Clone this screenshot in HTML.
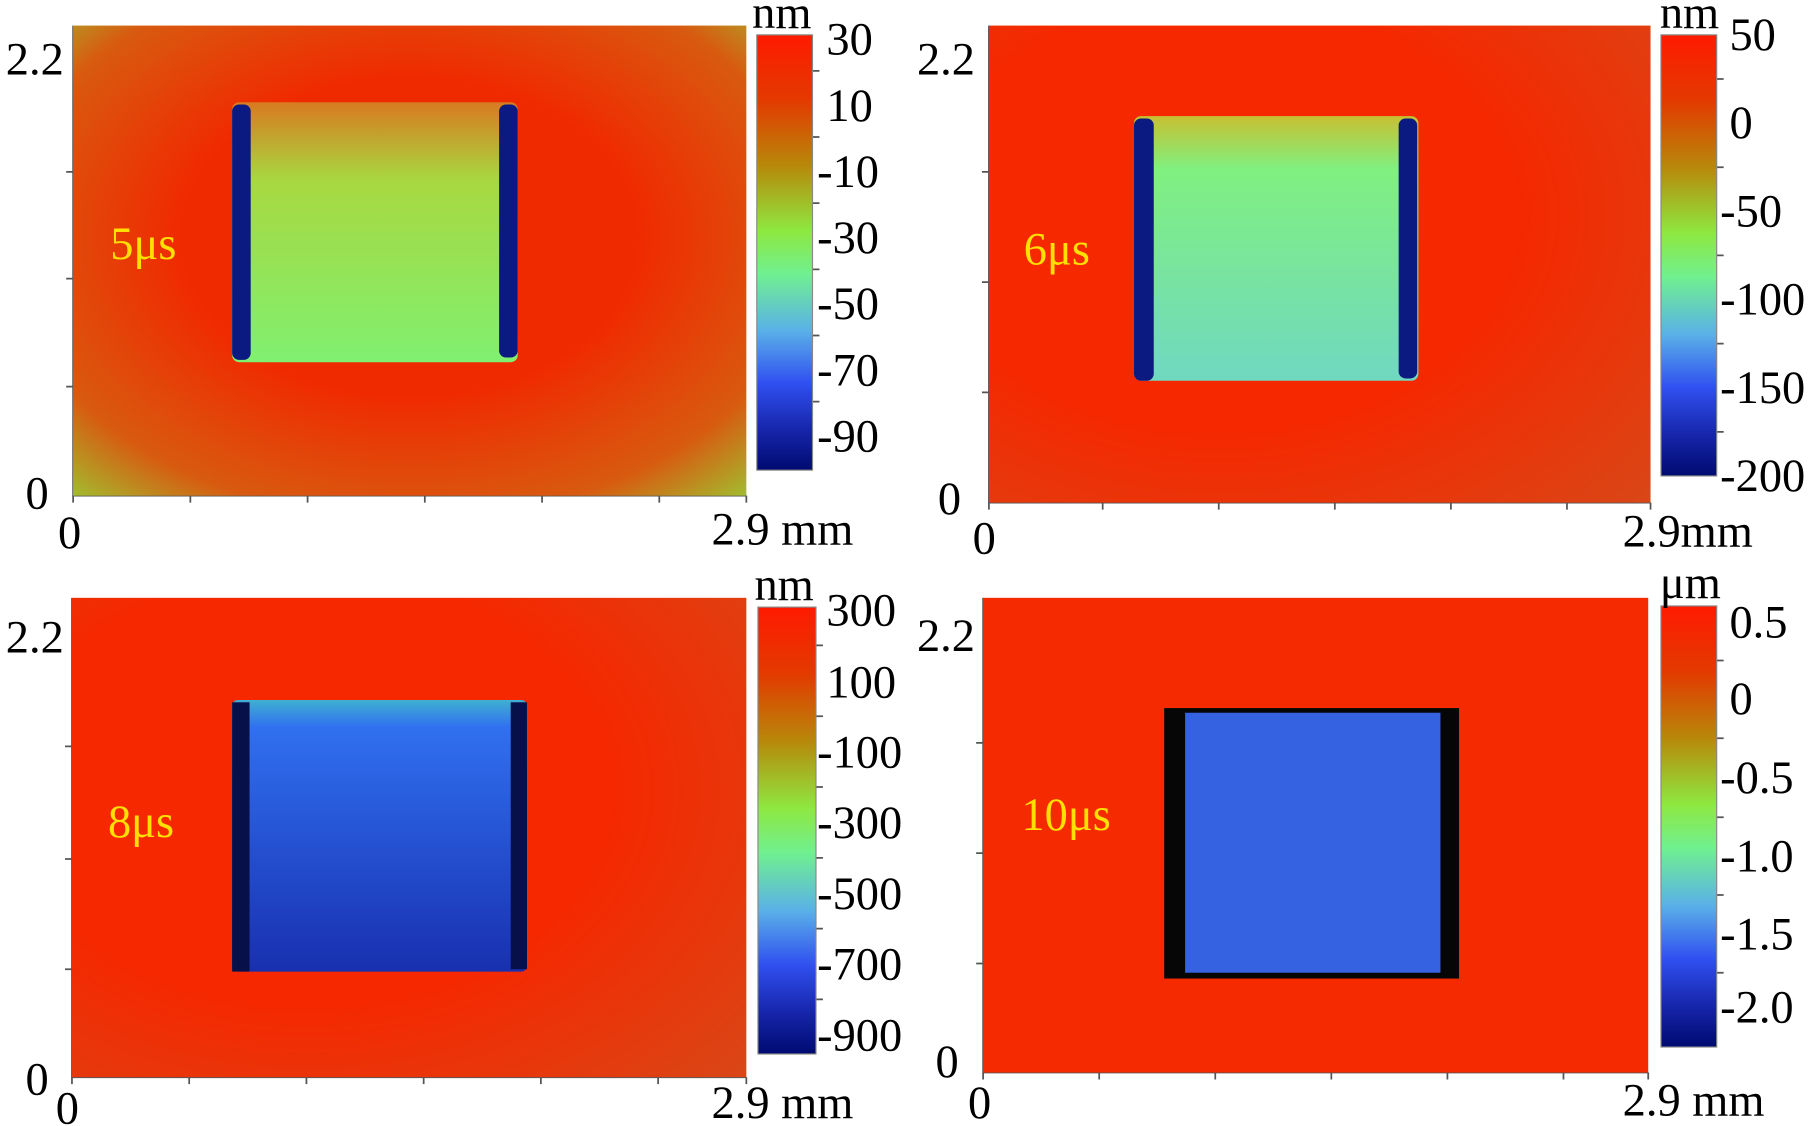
<!DOCTYPE html>
<html><head><style>html,body{margin:0;padding:0;background:#fff}svg{display:block}text{font-family:"Liberation Serif",serif;fill:#000;font-size:40px}.y{fill:#ffe000}</style></head><body>
<svg width="1820" height="1126" viewBox="0 0 1568 970" xmlns="http://www.w3.org/2000/svg">
<defs>
<linearGradient id="cb" x1="0" y1="0" x2="0" y2="1">
<stop offset="0" stop-color="#ff1a00"/><stop offset="0.15" stop-color="#e33a00"/><stop offset="0.3" stop-color="#b8880a"/><stop offset="0.45" stop-color="#8ee840"/><stop offset="0.55" stop-color="#70f090"/><stop offset="0.68" stop-color="#5ab0e8"/><stop offset="0.8" stop-color="#3050f0"/><stop offset="0.9" stop-color="#1828b0"/><stop offset="1" stop-color="#000a70"/></linearGradient>
<radialGradient id="bg1" cx="0.5" cy="0.45" r="0.75"><stop offset="0.45" stop-color="#f02a00"/><stop offset="0.8" stop-color="#d85a10"/><stop offset="1" stop-color="#a0c030"/></radialGradient>
<radialGradient id="bg2" cx="0.35" cy="0.4" r="0.9"><stop offset="0.5" stop-color="#f52800"/><stop offset="1" stop-color="#d84818"/></radialGradient>
<linearGradient id="sq1" x1="0" y1="0" x2="0" y2="1"><stop offset="0" stop-color="#d87a20"/><stop offset="0.3" stop-color="#a8d840"/><stop offset="1" stop-color="#80f070"/></linearGradient>
<linearGradient id="sq2" x1="0" y1="0" x2="0" y2="1"><stop offset="0" stop-color="#c8c030"/><stop offset="0.2" stop-color="#80f080"/><stop offset="1" stop-color="#70d8c0"/></linearGradient>
<linearGradient id="sq3" x1="0" y1="0" x2="0" y2="1"><stop offset="0" stop-color="#40b0d0"/><stop offset="0.1" stop-color="#3070f0"/><stop offset="1" stop-color="#1830b0"/></linearGradient>
</defs>
<g stroke="#555" stroke-width="1.5" fill="none">
<path d="M63 22V427H643"/><path d="M852 22V433H1422"/><path d="M62 515V928H643"/><path d="M847 515V924H1420"/>
<path d="M164 427v6M265 427v6M366 427v6M467 427v6M568 427v6M643 427v6M63 427v6"/>
<path d="M950 433v6M1050 433v6M1150 433v6M1250 433v6M1350 433v6M1422 433v6M852 433v6"/>
<path d="M163 928v6M264 928v6M365 928v6M466 928v6M567 928v6M643 928v6M62 928v6"/>
<path d="M947 924v6M1047 924v6M1147 924v6M1247 924v6M1347 924v6M1420 924v6M847 924v6"/>
<path d="M57 148h6M57 240h6M57 333h6M846 148h6M846 243h6M846 338h6M56 643h6M56 740h6M56 835h6M841 640h6M841 735h6M841 830h6"/>
<path d="M700 61h6M700 118h6M700 175h6M700 232h6M700 289h6M700 346h6M1479 68h6M1479 144h6M1479 220h6M1479 296h6M1479 372h6M703 556h6M703 617h6M703 678h6M703 739h6M703 800h6M703 861h6M1479 569h6M1479 636h6M1479 704h6M1479 771h6M1479 838h6"/>
</g>
<!-- panel 1 -->
<rect x="63" y="22" width="580" height="405" fill="url(#bg1)"/>
<rect x="200" y="88" width="246" height="224" rx="6" fill="url(#sq1)"/>
<rect x="200" y="90" width="16" height="220" rx="6" fill="#0a1a80"/>
<rect x="430" y="90" width="16" height="218" rx="6" fill="#0a1a80"/>
<text x="95" y="223" class="y" font-size="36">5μs</text>
<rect x="652" y="30" width="48" height="375" fill="url(#cb)" stroke="#888"/>
<text x="648" y="24" font-size="36">nm</text>
<g><text x="712" y="47">30</text><text x="712" y="104">10</text><text x="704" y="161">-10</text><text x="704" y="218">-30</text><text x="704" y="275">-50</text><text x="704" y="332">-70</text><text x="704" y="389">-90</text></g>
<text x="5" y="64">2.2</text><text x="22" y="438">0</text><text x="50" y="472">0</text><text x="613" y="469">2.9 mm</text>
<!-- panel 2 -->
<rect x="852" y="22" width="570" height="411" fill="url(#bg2)"/>
<rect x="977" y="100" width="245" height="228" rx="6" fill="url(#sq2)"/>
<rect x="977" y="102" width="17" height="226" rx="6" fill="#0a1a80"/>
<rect x="1205" y="102" width="16" height="224" rx="6" fill="#0a1a80"/>
<text x="882" y="228" class="y" font-size="36">6μs</text>
<rect x="1431" y="30" width="48" height="380" fill="url(#cb)" stroke="#888"/>
<text x="1430" y="24" font-size="36">nm</text>
<g><text x="1490" y="43">50</text><text x="1490" y="119">0</text><text x="1482" y="195">-50</text><text x="1482" y="271">-100</text><text x="1482" y="347">-150</text><text x="1482" y="423">-200</text></g>
<text x="790" y="64">2.2</text><text x="808" y="443">0</text><text x="838" y="477">0</text><text x="1398" y="471">2.9mm</text>
<!-- panel 3 -->
<rect x="62" y="515" width="581" height="413" fill="url(#bg2)"/>
<rect x="200" y="603" width="254" height="234" rx="5" fill="url(#sq3)"/>
<rect x="200" y="605" width="15" height="232" fill="#08104a"/>
<rect x="440" y="605" width="14" height="230" fill="#08104a"/>
<text x="93" y="721" class="y" font-size="36">8μs</text>
<rect x="653" y="523" width="50" height="385" fill="url(#cb)" stroke="#888"/>
<text x="650" y="517" font-size="36">nm</text>
<g><text x="712" y="539">300</text><text x="712" y="601">100</text><text x="704" y="661">-100</text><text x="704" y="722">-300</text><text x="704" y="783">-500</text><text x="704" y="844">-700</text><text x="704" y="905">-900</text></g>
<text x="5" y="562">2.2</text><text x="22" y="943">0</text><text x="48" y="968">0</text><text x="613" y="963">2.9 mm</text>
<!-- panel 4 -->
<rect x="847" y="515" width="573" height="409" fill="#f52a00"/>
<rect x="1003" y="610" width="254" height="233" fill="#060606"/>
<rect x="1021" y="614" width="220" height="224" fill="#3462e0"/>
<text x="880" y="715" class="y" font-size="36">10μs</text>
<rect x="1431" y="522" width="48" height="380" fill="url(#cb)" stroke="#888"/>
<text x="1430" y="515" font-size="36">μm</text>
<g><text x="1490" y="549">0.5</text><text x="1490" y="615">0</text><text x="1482" y="683">-0.5</text><text x="1482" y="751">-1.0</text><text x="1482" y="818">-1.5</text><text x="1482" y="881">-2.0</text></g>
<text x="790" y="561">2.2</text><text x="806" y="928">0</text><text x="834" y="963">0</text><text x="1398" y="961">2.9 mm</text>
</svg>
</body></html>
